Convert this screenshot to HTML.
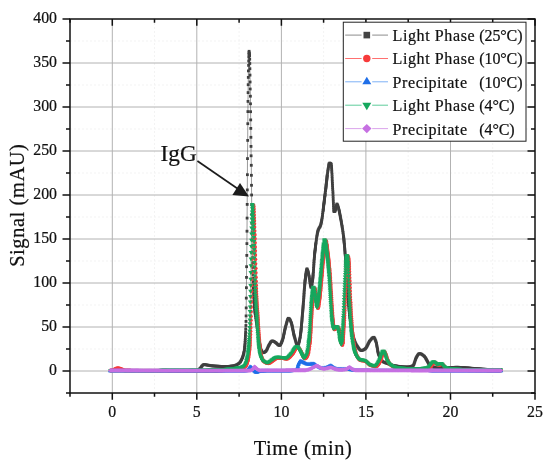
<!DOCTYPE html>
<html lang="en"><head><meta charset="utf-8"><title>Chromatogram</title>
<style>
html,body{margin:0;padding:0;background:#fff}
svg{display:block}
text{font-family:"Liberation Serif","DejaVu Serif",serif;fill:#111;stroke:#111;stroke-width:.22px}
.tk{font-size:15.8px}
.lg{font-size:16px;letter-spacing:.6px}
.lp{letter-spacing:-.1px}
.ax{font-size:20.4px;letter-spacing:.6px}
.an{font-size:23.2px}
.c{fill:none;stroke-width:.6;stroke-linejoin:round}
.k{stroke:#555}.r{stroke:#f66}.b{stroke:#5a9af0}.g{stroke:#3dbb7d}.p{stroke:#cf8ee6}
.gm{stroke:#b2b2b2;stroke-width:1}
.gn{stroke:#f3f3f3;stroke-width:1;stroke-dasharray:2 2}
.axl{stroke:#111;stroke-width:1.5;fill:none}
</style></head><body>
<svg width="550" height="468" viewBox="0 0 550 468">
<defs>
<marker id="mk" markerUnits="userSpaceOnUse" markerWidth="4" markerHeight="4" refX="2" refY="2"><rect x=".6" y=".6" width="2.8" height="2.8" fill="#3f3f3f"/></marker>
<marker id="mr" markerUnits="userSpaceOnUse" markerWidth="5" markerHeight="5" refX="2.5" refY="2.5"><circle cx="2.5" cy="2.5" r="1.9" fill="#f73b3b"/></marker>
<marker id="mb" markerUnits="userSpaceOnUse" markerWidth="6" markerHeight="6" refX="3" refY="3"><path d="M3 .8L5.3 4.6H.7z" fill="#1f6fe8"/></marker>
<marker id="mg" markerUnits="userSpaceOnUse" markerWidth="6" markerHeight="6" refX="3" refY="3"><path d="M3 5.2L5.3 1.4H.7z" fill="#16a85e"/></marker>
<marker id="mp" markerUnits="userSpaceOnUse" markerWidth="6" markerHeight="6" refX="3" refY="3"><path d="M3 .8L5.2 3L3 5.2L.8 3z" fill="#c670e2"/></marker>
</defs>
<rect width="550" height="468" fill="#fff"/>

<path class="gn" d="M154.5 19V393M239.1 19V393M323.6 19V393M408.2 19V393M492.7 19V393M70 349H535M70 305H535M70 261H535M70 217H535M70 173H535M70 129H535M70 85H535M70 41H535"/>
<path class="gm" d="M112.3 19V393M196.8 19V393M281.4 19V393M365.9 19V393M450.5 19V393M70 371H535M70 327H535M70 283H535M70 239H535M70 195H535M70 151H535M70 107H535M70 63H535"/>
<polyline class="c k" marker-start="url(#mk)" marker-mid="url(#mk)" marker-end="url(#mk)" points="110.5,370.5 111.4,370.5 112.3,370.5 113.2,370.5 114.1,370.5 115,370.5 115.9,370.5 116.8,370.5 117.7,370.5 118.6,370.5 119.5,370.5 120.4,370.5 121.3,370.5 122.2,370.5 123.1,370.5 124,370.5 124.9,370.5 125.8,370.5 126.7,370.5 127.6,370.5 128.5,370.5 129.4,370.5 130.3,370.5 131.2,370.5 132.1,370.5 133,370.5 133.9,370.5 134.8,370.5 135.7,370.5 136.6,370.5 137.5,370.5 138.4,370.5 139.4,370.5 140.3,370.5 141.2,370.5 142.1,370.5 143,370.5 143.9,370.5 144.8,370.5 145.7,370.5 146.6,370.5 147.5,370.5 148.4,370.5 149.3,370.5 150.2,370.5 151.1,370.5 152,370.5 152.9,370.5 153.8,370.5 154.7,370.5 155.6,370.5 156.5,370.5 157.4,370.5 158.3,370.5 159.2,370.5 160.1,370.5 161,370.5 161.9,370.5 162.8,370.5 163.7,370.5 164.6,370.5 165.5,370.4 166.4,370.4 167.3,370.4 168.2,370.4 169.1,370.4 170,370.4 170.9,370.4 171.8,370.4 172.7,370.4 173.6,370.4 174.5,370.4 175.4,370.4 176.3,370.4 177.2,370.4 178.1,370.4 179,370.4 179.9,370.4 180.8,370.4 181.7,370.4 182.6,370.4 183.5,370.4 184.4,370.4 185.3,370.4 186.2,370.4 187.1,370.4 188,370.4 188.9,370.4 189.8,370.3 190.7,370.3 191.6,370.3 192.5,370.3 193.4,370.3 194.3,370.3 195.3,370.3 196.2,370.3 197.1,370.3 198,370.3 198.9,369.8 199.5,369 200.2,368.3 200.9,367.5 201.4,366.7 202,366 202.7,365.2 203.5,364.7 204.4,364.6 205.3,364.7 206.2,364.9 207.1,365 208,365.2 208.9,365.3 209.8,365.5 210.7,365.7 211.6,365.8 212.5,365.9 213.4,365.9 214.3,366 215.2,366.1 216.1,366.1 217,366.2 217.9,366.2 218.8,366.3 219.7,366.3 220.6,366.4 221.5,366.4 222.4,366.4 223.3,366.5 224.2,366.5 225.1,366.5 226,366.5 226.9,366.5 227.8,366.5 228.7,366.4 229.6,366.3 230.5,366.2 231.4,366.1 232.3,366 233.2,365.9 234.1,365.7 235,365.5 235.9,365.1 236.8,364.7 237.7,364.2 238.5,363.7 239.3,363.1 240,362.3 240.6,361.5 241.1,360.5 241.6,359.6 242,358.7 242.5,357.6 242.8,356.7 243.1,355.7 243.5,354.5 243.7,353.5 243.9,352.4 244.2,351.2 244.4,349.8 244.6,348.1 244.7,347 244.8,345.6 245,344.1 245.1,342.4 245.2,340.6 245.3,338.6 245.4,336.4 245.5,334.2 245.6,331.8 245.7,328.9 245.9,325.5 246,321.4 246.1,315.9 246.2,307.9 246.3,298.1 246.4,287.7 246.5,277.4 246.6,266.7 246.8,255.4 246.9,243.6 247,231.2 247.1,218.1 247.2,204.4 247.3,189.9 247.4,174.7 247.5,158.6 247.7,140.4 247.8,123.7 247.9,111.6 248,101.4 248.1,92.6 248.2,84.7 248.3,77.4 248.4,70.9 248.6,65.4 248.7,60.9 248.8,57 248.9,54.3 249,52.5 249.1,51.3 249.5,53.6 249.6,55.7 249.7,59.2 249.8,63.5 249.9,68.7 250,75.1 250.1,82 250.2,89 250.4,96.2 250.5,103.8 250.6,111.7 250.7,119.9 250.8,128.4 250.9,137.3 251,146.4 251.1,155.8 251.3,165.3 251.4,175.3 251.5,185.3 251.6,195 251.7,204.6 251.8,214.3 251.9,223.5 252.1,231.8 252.2,238.9 252.3,245.6 252.4,251.9 252.5,257.6 252.6,262.8 252.7,267.4 252.8,271.3 253,274.9 253.1,278.4 253.2,281.7 253.3,284.8 253.4,287.7 253.5,290.4 253.6,293 253.7,295.4 253.9,297.5 254,299.5 254.1,301.3 254.2,302.9 254.3,304.3 254.4,305.7 254.5,307 254.6,308.2 254.8,309.4 254.9,310.4 255,311.5 255.1,312.5 255.2,313.4 255.3,314.3 255.5,316 255.8,317.6 256,319.2 256.2,320.8 256.4,322.3 256.7,323.8 256.9,325.3 257.1,326.6 257.3,327.9 257.6,329.2 257.8,330.4 258,331.7 258.2,333 258.5,334.3 258.7,335.8 258.9,337.4 259.2,339 259.4,340.8 259.6,342.4 259.8,344.1 260.1,345.6 260.3,346.9 260.5,348 260.8,349.1 261.3,350.2 261.7,351.1 262.3,352.1 263,352.7 263.9,352.6 264.7,352.1 265.5,351.5 266.1,350.9 266.7,350 267.2,349 267.6,348 268.1,346.9 268.5,345.9 269,345.1 269.5,344.2 270.1,343.2 270.6,342.3 271.2,341.6 272,341 272.9,341 273.8,341.4 274.6,341.9 275.4,342.4 276.2,343 276.8,343.6 277.5,344.3 278.2,344.9 279,345.4 279.9,345.4 280.6,344.5 281,343.7 281.5,342.7 281.8,341.8 282.1,340.9 282.5,340.1 282.8,339 283.2,337.8 283.4,336.8 283.6,335.7 283.8,334.7 284.1,333.5 284.3,332.4 284.5,331.3 284.7,330.2 285,329.2 285.2,328.2 285.4,327.3 285.7,326.1 286.1,324.8 286.4,323.6 286.8,322.3 287.1,321.1 287.4,320 287.8,319.2 288.3,318.3 289.2,318.6 289.8,319.4 290.3,320.3 290.7,321.3 291.2,322.4 291.5,323.4 291.8,324.7 292.1,325.7 292.3,326.8 292.5,327.9 292.7,329 293,330.1 293.2,331.3 293.4,332.4 293.6,333.5 293.9,334.5 294.1,335.5 294.3,336.4 294.7,337.5 295,338.7 295.3,339.9 295.7,341.1 296,342.2 296.3,343.3 296.7,344.2 297.1,345.1 298,345.3 298.5,344.3 298.8,343.2 299.2,341.9 299.4,340.9 299.6,339.9 299.8,338.8 300.1,337.7 300.3,336.4 300.5,334.8 300.6,333.9 300.7,332.9 300.9,331.9 301,330.8 301.1,329.7 301.2,328.6 301.3,327.4 301.4,326.2 301.5,324.9 301.6,323.6 301.8,322.3 301.9,321 302,319.7 302.1,318.3 302.2,317 302.3,315.6 302.4,314.3 302.5,312.9 302.7,311.6 302.8,310.3 302.9,309 303,307.7 303.1,306.4 303.2,305 303.3,303.6 303.4,302.1 303.6,300.6 303.7,299 303.8,297.5 303.9,295.9 304,294.3 304.1,292.7 304.2,291.1 304.3,289.6 304.5,288.1 304.6,286.7 304.7,285.3 304.8,284 304.9,282.8 305,281.6 305.1,280.6 305.2,279.6 305.4,278.7 305.5,277.7 305.6,276.7 305.7,275.8 305.8,274.8 305.9,273.9 306.1,272.2 306.4,270.8 306.6,269.7 307,268.8 307.6,269.9 308,271.2 308.2,272.2 308.4,273.2 308.6,274.3 308.9,275.2 309.1,276.4 309.3,277.7 309.5,279.2 309.8,280.8 310,282.4 310.2,283.9 310.4,285.2 310.7,286.3 311,287.4 311.7,286.4 311.9,285.1 312.1,283.5 312.3,281.8 312.5,280.8 312.6,279.9 312.7,279 312.8,278 312.9,277 313,275.9 313.1,274.6 313.2,273.2 313.4,271.7 313.5,270.1 313.6,268.4 313.7,266.8 313.8,265.1 313.9,263.4 314,261.7 314.1,260.1 314.3,258.5 314.4,257.1 314.5,255.7 314.6,254.5 314.7,253.4 314.8,252.4 314.9,251.4 315.1,250.3 315.2,249.4 315.3,248.4 315.4,247.4 315.5,246.4 315.6,245.5 315.7,244.6 315.8,243.7 316,242.8 316.2,241 316.4,239.4 316.6,237.8 316.9,236.3 317.1,235 317.3,233.7 317.5,232.6 317.8,231.6 318,230.7 318.3,229.7 318.8,228.7 319.3,227.7 319.9,226.9 320.3,226 320.7,225 321,223.8 321.2,222.8 321.5,221.6 321.7,220.4 321.9,219 322.2,217.5 322.4,216 322.6,214.3 322.8,212.6 323.1,210.8 323.2,209.9 323.3,209 323.4,208.1 323.5,207.2 323.6,206.2 323.7,205.3 323.8,204.3 324,203.4 324.1,202.5 324.2,201.5 324.3,200.6 324.4,199.6 324.5,198.7 324.6,197.7 324.7,196.8 324.9,195.9 325,195 325.1,194.1 325.3,192.4 325.5,190.6 325.6,189.6 325.8,188.7 325.9,187.7 326,186.7 326.1,185.6 326.2,184.6 326.3,183.6 326.4,182.6 326.5,181.5 326.7,180.5 326.8,179.5 326.9,178.5 327,177.5 327.1,176.5 327.2,175.6 327.3,174.7 327.6,172.9 327.8,171.3 328,169.9 328.2,168.6 328.5,167.1 328.7,165.8 328.9,164.6 329.1,163.6 329.8,163 330.7,163.5 331.3,164.2 331.5,166.2 331.6,167.9 331.7,169.8 331.8,171.9 332,174.2 332.1,176.6 332.2,179 332.3,181.3 332.4,183.4 332.5,185.3 332.6,187.3 332.7,189.4 332.9,191.7 333,194.1 333.1,196.5 333.2,198.9 333.3,201.3 333.4,203.5 333.5,205.6 333.6,207.5 333.8,209.2 333.9,210.6 334,211.6 334.9,211.5 335.3,210.4 335.7,209.4 335.9,208.4 336.1,207.2 336.4,206 336.6,205 336.9,204 337.6,204.9 337.9,206 338.3,207.2 338.6,208.4 338.9,209.7 339.2,210.7 339.4,211.7 339.6,212.8 339.8,214 340.1,215.1 340.3,216.4 340.5,217.6 340.7,218.8 341,220 341.2,221.2 341.4,222.5 341.6,223.8 341.9,225.1 342.1,226.4 342.3,227.8 342.5,229.2 342.8,230.8 343,232.4 343.2,234 343.5,235.8 343.6,236.7 343.7,237.6 343.8,238.7 343.9,239.7 344,240.8 344.1,242 344.2,243.2 344.4,244.4 344.5,245.7 344.6,247 344.7,248.4 344.8,249.7 344.9,251.1 345,252.5 345.1,254 345.3,255.4 345.4,256.9 345.5,258.4 345.6,260 345.7,261.7 345.8,263.4 345.9,265.2 346,267 346.2,268.9 346.3,270.8 346.4,272.6 346.5,274.5 346.6,276.4 346.7,278.3 346.8,280.1 346.9,281.9 347.1,283.7 347.2,285.4 347.3,287 347.4,288.6 347.5,290.1 347.6,291.6 347.7,293 347.8,294.5 348,295.9 348.1,297.4 348.2,298.8 348.3,300.2 348.4,301.6 348.5,303 348.6,304.3 348.7,305.6 348.9,306.9 349,308.2 349.1,309.4 349.2,310.6 349.3,311.8 349.4,312.9 349.5,314 349.6,315.1 349.8,316.1 349.9,317 350,317.9 350.2,319.6 350.4,321.3 350.7,322.9 350.9,324.4 351.1,325.9 351.3,327.3 351.6,328.7 351.8,329.9 352,331.2 352.2,332.3 352.5,333.4 352.7,334.4 352.9,335.3 353.3,336.6 353.6,337.7 353.9,338.8 354.3,339.9 354.6,340.8 354.9,341.7 355.4,342.8 355.8,343.8 356.3,344.7 356.9,345.6 357.4,346.5 358,347.3 358.6,348.2 359.1,348.9 359.8,349.7 360.6,350.3 361.5,350.5 362.4,350.3 363.3,350 364.2,349.5 365,349 365.7,348.4 366.2,347.6 366.8,346.7 367.2,345.8 367.7,344.9 368.1,344 368.6,343.1 369,342.2 369.5,341.4 370,340.6 370.7,339.8 371.4,339 372.1,338.2 372.9,337.6 373.8,337.3 374.4,338 374.9,338.9 375.3,340 375.7,340.9 376,341.9 376.4,343.1 376.6,344.2 376.8,345.4 377,346.7 377.3,348 377.5,349.3 377.7,350.7 377.9,351.9 378.2,353 378.4,353.9 378.7,354.8 379.2,355.9 379.6,356.9 380.1,357.8 380.5,358.6 381.1,359.5 381.7,360.3 382.3,361.1 383.1,361.7 383.9,362.2 384.8,362.6 385.7,363 386.6,363.2 387.5,363.5 388.4,363.9 389.3,364.2 390.2,364.5 391.1,364.8 392,365.1 392.9,365.4 393.8,365.6 394.7,365.8 395.6,365.9 396.5,366 397.4,366.2 398.3,366.3 399.2,366.4 400.1,366.5 401,366.6 401.9,366.7 402.8,366.8 403.7,366.9 404.6,366.9 405.5,367 406.5,367 407.4,367 408.3,367 409.2,366.9 410.1,366.7 411,366.5 411.9,366.1 412.8,365.7 413.6,365.1 414,364.1 414.3,363.1 414.7,362 415,360.9 415.4,359.8 415.7,358.9 416.1,357.9 416.6,357.1 417,356.3 417.6,355.3 418.2,354.5 418.8,353.8 419.7,353.6 420.7,353.8 421.6,354.2 422.3,354.7 423.1,355.3 423.9,355.9 424.6,356.6 425.2,357.4 425.7,358.3 426.2,359.1 426.6,359.9 427.1,360.7 427.6,361.7 428.1,362.5 428.5,363.4 429,364.3 429.4,365.2 430,366 430.8,366.5 431.7,366.7 432.6,366.9 433.5,367.1 434.4,367.2 435.3,367.2 436.2,367.3 437.1,367.3 438,367.3 438.9,367.4 439.8,367.4 440.7,367.4 441.6,367.5 442.5,367.5 443.4,367.5 444.3,367.5 445.2,367.5 446.1,367.6 447,367.6 447.9,367.6 448.8,367.6 449.7,367.6 450.6,367.6 451.5,367.6 452.4,367.5 453.3,367.5 454.2,367.4 455.1,367.3 456,367.3 456.9,367.3 457.8,367.3 458.7,367.3 459.6,367.4 460.5,367.4 461.4,367.5 462.3,367.5 463.3,367.6 464.2,367.6 465.1,367.7 466,367.8 466.9,367.9 467.8,367.9 468.7,368 469.6,368.1 470.5,368.2 471.4,368.3 472.3,368.3 473.2,368.4 474.1,368.5 475,368.5 475.9,368.6 476.8,368.7 477.7,368.7 478.6,368.8 479.5,368.9 480.4,368.9 481.3,369 482.2,369.1 483.1,369.2 484,369.2 484.9,369.3 485.8,369.3 486.7,369.4 487.6,369.4 488.5,369.5 489.4,369.5 490.3,369.6 491.2,369.6 492.1,369.7 493,369.7 493.9,369.7 494.8,369.8 495.7,369.8 496.6,369.8 497.5,369.9 498.4,369.9 499.3,369.9 500.2,370 501.1,370"/>
<polyline class="c r" marker-start="url(#mr)" marker-mid="url(#mr)" marker-end="url(#mr)" points="110.5,370.5 111.4,370.5 112.3,370.3 113.2,370 114,369.6 114.8,369.1 115.7,368.7 116.6,368.4 117.5,368.2 118.4,368.2 119.3,368.4 120.2,368.7 121.1,369 122,369.3 122.9,369.7 123.8,370.2 124.7,370.5 125.6,370.5 126.5,370.5 127.4,370.5 128.3,370.5 129.2,370.5 130.1,370.5 131,370.6 131.9,370.6 132.8,370.6 133.7,370.6 134.6,370.6 135.5,370.6 136.4,370.6 137.3,370.6 138.2,370.6 139.1,370.6 140,370.6 140.9,370.6 141.8,370.6 142.7,370.6 143.6,370.6 144.5,370.6 145.4,370.7 146.3,370.7 147.2,370.7 148.1,370.7 149,370.7 149.9,370.7 150.8,370.7 151.7,370.7 152.6,370.7 153.6,370.7 154.5,370.7 155.4,370.7 156.3,370.7 157.2,370.7 158.1,370.7 159,370.7 159.9,370.7 160.8,370.7 161.7,370.7 162.6,370.7 163.5,370.7 164.4,370.7 165.3,370.7 166.2,370.7 167.1,370.7 168,370.8 168.9,370.8 169.8,370.8 170.7,370.8 171.6,370.8 172.5,370.8 173.4,370.8 174.3,370.8 175.2,370.8 176.1,370.8 177,370.8 177.9,370.8 178.8,370.8 179.7,370.8 180.6,370.8 181.5,370.8 182.4,370.8 183.3,370.8 184.2,370.8 185.1,370.8 186,370.8 186.9,370.8 187.8,370.8 188.7,370.8 189.6,370.8 190.5,370.8 191.4,370.8 192.3,370.8 193.2,370.8 194.1,370.8 195,370.8 195.9,370.8 196.8,370.8 197.7,370.8 198.6,370.8 199.5,370.8 200.4,370.8 201.3,370.8 202.2,370.8 203.1,370.8 204,370.8 204.9,370.8 205.8,370.8 206.7,370.8 207.6,370.8 208.5,370.8 209.5,370.8 210.4,370.8 211.3,370.8 212.2,370.8 213.1,370.8 214,370.8 214.9,370.8 215.8,370.8 216.7,370.8 217.6,370.8 218.5,370.7 219.4,370.7 220.3,370.7 221.2,370.6 222.1,370.5 223,370.4 223.9,370.4 224.8,370.3 225.7,370.2 226.6,370.1 227.5,370 228.4,369.9 229.3,369.8 230.2,369.7 231.1,369.6 232,369.5 232.9,369.4 233.8,369.3 234.7,369.2 235.6,369.1 236.5,369 237.4,368.9 238.3,368.7 239.2,368.6 240.1,368.4 241,368.2 241.9,368 242.8,367.7 243.7,367.4 244.6,367 245.4,366.5 246.1,365.7 246.5,364.7 246.9,363.7 247.2,362.6 247.5,361.3 247.8,360.4 248,359.4 248.2,358.4 248.4,357.3 248.7,356.1 248.9,354.6 249.1,352.8 249.2,351.7 249.3,350.6 249.5,349.4 249.6,348.1 249.7,346.8 249.8,345.3 249.9,343.7 250,342 250.1,340 250.2,337.4 250.4,334.5 250.5,331.2 250.6,327.7 250.7,324 250.8,320.2 250.9,316.2 251,311.7 251.1,307 251.3,301.9 251.4,296.6 251.5,291.2 251.6,285.4 251.7,279.1 251.8,272.4 251.9,265.6 252.1,258.9 252.2,252.6 252.3,246.4 252.4,240.1 252.5,233.9 252.6,228.1 252.7,223.2 252.8,219.3 253,215.7 253.1,212.2 253.2,209.1 253.3,206.6 253.4,205.1 253.7,206.8 253.9,209.1 254,211.8 254.1,214.8 254.2,217.8 254.3,220.7 254.4,223.8 254.5,227.1 254.6,230.8 254.8,234.7 254.9,238.7 255,242.8 255.1,246.9 255.2,250.8 255.3,254.9 255.4,259.3 255.5,263.8 255.7,268.3 255.8,272.8 255.9,277.2 256,281.3 256.1,285.2 256.2,288.5 256.3,291.4 256.4,294 256.6,296.5 256.7,298.8 256.8,300.9 256.9,303 257,304.9 257.1,306.8 257.2,308.6 257.3,310.4 257.5,312.2 257.6,313.9 257.7,315.6 257.8,317.4 257.9,319.2 258,321 258.1,322.9 258.2,324.8 258.4,326.8 258.5,328.7 258.6,330.6 258.7,332.5 258.8,334.3 258.9,336.1 259,337.8 259.2,339.4 259.3,340.8 259.4,342.1 259.5,343.4 259.6,344.6 259.7,345.7 259.8,346.9 259.9,348 260.1,349 260.2,350 260.3,350.9 260.5,352.5 260.7,353.8 261,354.7 261.3,356 261.6,357.1 262,358.2 262.3,359 262.8,360 263.3,360.9 264,361.5 264.8,362.1 265.6,362.5 266.5,362.9 267.4,363.2 268.3,363.3 269.2,363.2 270.1,362.7 270.9,362.2 271.7,361.6 272.4,361 273.2,360.5 274,359.9 274.8,359.3 275.6,358.8 276.4,358.3 277.3,358 278.2,357.9 279.1,357.9 280,358 280.9,358 281.8,358.1 282.7,358.2 283.6,358.3 284.5,358.5 285.4,358.7 286.3,358.8 287.2,358.8 288.1,358.4 288.9,357.8 289.6,357.2 290.3,356.5 290.9,355.7 291.6,355 292.3,354.3 292.8,353.5 293.4,352.7 294,351.7 294.4,350.9 294.9,350.1 295.4,349.2 296,348.3 296.7,347.6 297.5,347.1 298.4,347.3 299,348.1 299.6,349.1 300.1,349.9 300.5,350.8 301,351.5 301.4,352.3 301.9,353.3 302.3,354.3 302.8,355.4 303.2,356.4 303.7,357.3 304.2,358.1 305,358.6 305.9,358.1 306.5,357.4 307,356.5 307.5,355.6 307.8,354.7 308.2,353.3 308.4,352.2 308.6,350.9 308.9,349.5 309.1,347.9 309.3,346.3 309.5,344.5 309.6,343.6 309.8,342.7 309.9,341.7 310,340.8 310.1,339.8 310.2,338.6 310.3,337.2 310.4,335.7 310.5,334.1 310.7,332.4 310.8,330.6 310.9,328.7 311,326.8 311.1,324.8 311.2,322.8 311.3,320.7 311.4,318.7 311.6,316.7 311.7,314.6 311.8,312.7 311.9,310.8 312,309 312.1,307.2 312.2,305.6 312.3,304.1 312.5,302.7 312.6,301.5 312.7,300.4 312.8,299.2 312.9,298.1 313,296.9 313.1,295.8 313.2,294.7 313.4,293.6 313.5,292.5 313.6,291.5 313.7,290.6 313.9,289 314.1,287.8 315.1,288.7 315.3,290.1 315.5,291.7 315.7,293.3 316,295 316.2,296.5 316.4,298 316.6,299.7 316.7,300.7 316.9,301.7 317,302.6 317.1,303.6 317.2,304.5 317.4,306.1 317.6,307.3 318,308.2 318.4,307.1 318.7,305.9 318.9,304.3 319.1,302.5 319.2,301.6 319.3,300.6 319.4,299.6 319.6,298.6 319.7,297.7 319.8,296.7 319.9,295.8 320,294.8 320.1,293.8 320.2,292.7 320.3,291.5 320.5,290.3 320.6,289.1 320.7,287.9 320.8,286.6 320.9,285.3 321,284 321.1,282.8 321.2,281.5 321.4,280.2 321.5,279 321.6,277.7 321.7,276.5 321.8,275.3 321.9,274 322,272.7 322.2,271.4 322.3,270.1 322.4,268.7 322.5,267.4 322.6,266.1 322.7,264.8 322.8,263.5 322.9,262.2 323.1,261 323.2,259.7 323.3,258.5 323.4,257.4 323.5,256.3 323.6,255.2 323.7,254.2 323.8,253.3 324,252.3 324.1,251.3 324.2,250.2 324.3,249.2 324.4,248.2 324.5,247.1 324.6,246.1 324.7,245.2 324.9,244.3 325.1,242.6 325.3,241.3 325.5,240.4 326.3,241.5 326.5,242.9 326.8,244.6 326.9,245.5 327,246.5 327.1,247.5 327.2,248.5 327.3,249.5 327.4,250.6 327.6,251.6 327.7,252.6 327.8,253.5 327.9,254.4 328,255.3 328.1,256.3 328.2,257.3 328.3,258.3 328.5,259.3 328.6,260.3 328.7,261.4 328.8,262.5 328.9,263.6 329,264.7 329.1,265.8 329.3,267 329.4,268.2 329.5,269.4 329.6,270.6 329.7,271.9 329.8,273.2 329.9,274.5 330,275.9 330.2,277.5 330.3,279 330.4,280.7 330.5,282.4 330.6,284.2 330.7,286 330.8,287.9 330.9,289.8 331.1,291.7 331.2,293.7 331.3,295.6 331.4,297.6 331.5,299.5 331.6,301.5 331.7,303.4 331.8,305.3 332,307.1 332.1,308.9 332.2,310.7 332.3,312.4 332.4,314 332.5,315.6 332.6,317.1 332.7,318.5 332.9,319.8 333,321 333.1,322.1 333.2,323.1 333.4,324.7 333.6,326.1 333.9,327.4 334.1,328.5 334.4,329.4 335.3,329 336,328.3 336.8,327.7 337.6,327.2 338.5,327.8 338.8,328.9 339.1,329.7 339.3,330.7 339.5,331.6 339.7,332.8 340,334.3 340.2,336 340.4,337.7 340.6,339.2 340.9,340.4 341.1,341.4 341.3,342.3 341.5,343.2 341.9,344.3 342.4,345.1 342.8,343.3 342.9,342.2 343,340.9 343.1,339.4 343.2,337.7 343.3,335.9 343.5,334 343.6,332.1 343.7,330.1 343.8,328.1 343.9,326.2 344,324.4 344.1,322.4 344.2,320.3 344.4,318 344.5,315.6 344.6,313.1 344.7,310.5 344.8,307.9 344.9,305.2 345,302.5 345.1,299.8 345.3,297.2 345.4,294.6 345.5,292.1 345.6,289.8 345.7,287.4 345.8,285 345.9,282.5 346,280 346.2,277.5 346.3,275 346.4,272.6 346.5,270.4 346.6,268.3 346.7,266.4 346.8,264.7 346.9,263.2 347.1,262 347.2,260.8 347.3,259.7 347.4,258.6 347.5,257.6 347.7,256 348.4,257.1 348.5,258.2 348.6,259.3 348.7,260.6 348.9,261.9 349,263.3 349.1,264.8 349.2,266.7 349.3,269 349.4,271.7 349.5,274.6 349.6,277.7 349.8,281 349.9,284.3 350,287.7 350.1,291 350.2,294.1 350.3,297.1 350.4,299.8 350.6,302.3 350.7,304.7 350.8,307.1 350.9,309.5 351,311.8 351.1,314 351.2,316.2 351.3,318.3 351.5,320.3 351.6,322.2 351.7,323.9 351.8,325.5 351.9,326.9 352,328.4 352.1,329.7 352.2,331 352.4,332.3 352.5,333.5 352.6,334.6 352.7,335.7 352.8,336.8 352.9,337.7 353,338.7 353.3,340.3 353.5,341.8 353.7,343.2 353.9,344.5 354.2,345.8 354.4,347.1 354.6,348.2 354.8,349.3 355.1,350.4 355.3,351.3 355.5,352.2 355.8,353.4 356.2,354.4 356.6,355.4 357.1,356.2 357.5,357 358.1,357.9 358.7,358.7 359.3,359.5 360.1,360 361,360.3 361.9,360.5 362.8,360.6 363.7,360.7 364.6,360.9 365.5,361.2 366.3,361.7 367.1,362.4 367.8,363 368.5,363.7 369.3,364.4 370,364.9 370.9,365.3 371.9,365.6 372.8,365.9 373.7,366.1 374.6,366.3 375.5,366.4 376.4,366.3 377.1,365.9 377.8,365.1 378.4,364.4 379,363.5 379.4,362.7 379.9,361.8 380.3,361 380.8,360 381.1,359 381.4,357.9 381.8,356.7 382.1,355.6 382.4,354.7 382.9,353.7 383.3,352.6 383.9,351.7 384.8,352.2 385.3,353.2 385.6,354.1 385.9,355 386.3,355.8 386.6,356.9 387,358.1 387.3,359.3 387.6,360.2 388.1,361.1 388.5,362 389.1,362.9 389.7,363.7 390.3,364.5 391,365.1 391.8,365.7 392.6,366.2 393.5,366.7 394.4,367.1 395.3,367.4 396.2,367.7 397.1,368 398,368.2 398.9,368.4 399.8,368.6 400.7,368.7 401.6,368.8 402.5,368.9 403.4,368.9 404.3,369 405.2,369.1 406.1,369.1 407,369.2 407.9,369.2 408.8,369.2 409.7,369.3 410.6,369.3 411.5,369.3 412.4,369.3 413.3,369.3 414.2,369.3 415.1,369.3 416,369.3 416.9,369.3 417.8,369.2 418.7,369.2 419.6,369.2 420.5,369.2 421.4,369.1 422.3,369.1 423.2,369 424.1,369 425,368.9 425.9,368.9 426.8,368.8 427.8,368.7 428.7,368.3 429.4,367.8 430.2,367.2 430.9,366.6 431.5,365.7 432,364.7 432.6,364 433.3,363.3 433.9,362.6 434.9,362.4 435.6,362.9 436.4,363.5 437.1,364.2 437.8,364.9 438.7,365.1 439.6,364.9 440.5,364.5 441.4,364.3 442.3,364.3 443.1,364.8 443.8,365.6 444.3,366.4 445,367.2 445.8,367.8 446.7,368.2 447.6,368.6 448.5,368.8 449.4,369 450.3,369.2 451.2,369.3 452.1,369.4 453,369.6 453.9,369.6 454.8,369.7 455.7,369.8 456.6,369.8 457.5,369.9 458.4,369.9 459.3,370 460.2,370 461.1,370 462,370.1 462.9,370.1 463.8,370.1 464.7,370.2 465.6,370.2 466.5,370.2 467.4,370.2 468.3,370.3 469.2,370.3 470.1,370.3 471,370.3 471.9,370.3 472.8,370.3 473.7,370.3 474.6,370.3 475.5,370.4 476.4,370.4 477.3,370.4 478.2,370.4 479.1,370.4 480,370.4 480.9,370.4 481.8,370.4 482.7,370.4 483.6,370.4 484.6,370.4 485.5,370.4 486.4,370.4 487.3,370.5 488.2,370.5 489.1,370.5 490,370.5 490.9,370.5 491.8,370.5 492.7,370.5 493.6,370.5 494.5,370.5 495.4,370.5 496.3,370.5 497.2,370.5 498.1,370.5 499,370.5 499.9,370.5 500.8,370.5"/>
<polyline class="c b" marker-start="url(#mb)" marker-mid="url(#mb)" marker-end="url(#mb)" points="110.2,370.6 111.1,370.6 112,370.6 112.9,370.6 113.8,370.6 114.7,370.6 115.6,370.6 116.5,370.6 117.4,370.6 118.3,370.6 119.2,370.6 120.1,370.6 121,370.6 121.9,370.6 122.8,370.6 123.7,370.6 124.6,370.6 125.5,370.6 126.4,370.6 127.3,370.6 128.2,370.6 129.1,370.6 130,370.6 130.9,370.6 131.8,370.6 132.7,370.6 133.6,370.6 134.5,370.6 135.4,370.6 136.3,370.6 137.2,370.6 138.1,370.6 139.1,370.6 140,370.6 140.9,370.6 141.8,370.6 142.7,370.6 143.6,370.6 144.5,370.6 145.4,370.6 146.3,370.6 147.2,370.6 148.1,370.6 149,370.6 149.9,370.6 150.8,370.6 151.7,370.6 152.6,370.6 153.5,370.6 154.4,370.6 155.3,370.6 156.2,370.6 157.1,370.6 158,370.6 158.9,370.6 159.8,370.6 160.7,370.6 161.6,370.6 162.5,370.6 163.4,370.6 164.3,370.6 165.2,370.6 166.1,370.6 167,370.6 167.9,370.6 168.8,370.6 169.7,370.6 170.6,370.6 171.5,370.6 172.4,370.6 173.3,370.6 174.2,370.6 175.1,370.6 176,370.6 176.9,370.6 177.8,370.6 178.7,370.6 179.6,370.6 180.5,370.6 181.4,370.6 182.3,370.6 183.2,370.6 184.1,370.6 185,370.6 185.9,370.6 186.8,370.6 187.7,370.6 188.6,370.6 189.5,370.6 190.4,370.6 191.3,370.6 192.2,370.6 193.1,370.6 194,370.6 195,370.6 195.9,370.6 196.8,370.6 197.7,370.6 198.6,370.6 199.5,370.6 200.4,370.6 201.3,370.6 202.2,370.6 203.1,370.6 204,370.6 204.9,370.6 205.8,370.6 206.7,370.6 207.6,370.6 208.5,370.6 209.4,370.6 210.3,370.6 211.2,370.6 212.1,370.6 213,370.6 213.9,370.6 214.8,370.6 215.7,370.6 216.6,370.6 217.5,370.6 218.4,370.6 219.3,370.6 220.2,370.6 221.1,370.6 222,370.6 222.9,370.6 223.8,370.6 224.7,370.6 225.6,370.6 226.5,370.6 227.4,370.6 228.3,370.6 229.2,370.6 230.1,370.6 231,370.6 231.9,370.6 232.8,370.6 233.7,370.6 234.6,370.6 235.5,370.6 236.4,370.6 237.3,370.6 238.2,370.6 239.1,370.6 240,370.6 240.9,370.6 241.8,370.6 242.7,370.6 243.6,370.6 244.5,370.6 245.4,370.6 246.3,370.6 247.2,370.1 248,369.5 248.7,368.6 249.3,367.7 249.8,366.8 250.7,366.6 251.5,367.3 252.1,368 252.8,368.8 253.3,369.6 253.9,370.3 254.6,371.1 255.4,371.7 256.1,372.1 257,372.1 257.9,371.7 258.9,371.4 259.8,371.2 260.7,371 261.6,370.8 262.5,370.8 263.4,370.8 264.3,370.8 265.2,370.7 266.1,370.7 267,370.7 267.9,370.7 268.8,370.7 269.7,370.7 270.6,370.7 271.5,370.7 272.4,370.7 273.3,370.7 274.2,370.7 275.1,370.7 276,370.7 276.9,370.7 277.8,370.7 278.7,370.7 279.6,370.7 280.5,370.6 281.4,370.6 282.3,370.6 283.2,370.6 284.1,370.6 285,370.6 285.9,370.6 286.8,370.6 287.7,370.6 288.6,370.6 289.5,370.6 290.4,370.6 291.3,370.6 292.2,370.5 293.1,370.5 294,370.5 294.9,370.4 295.8,370.1 296.6,369.6 297.2,368.8 297.5,367.6 297.7,366.7 298,365.8 298.3,364.5 298.6,363.7 299.1,362.7 299.5,361.8 300.1,361 301,360.9 301.9,361.4 302.7,361.8 303.6,362.3 304.5,362.8 305.4,363.2 306.3,363.6 307.2,363.9 308.1,364 309,364 309.9,363.9 310.8,363.8 311.7,363.7 312.6,363.6 313.5,363.7 314.4,364 315.2,364.5 316,365.1 316.8,365.8 317.6,366.3 318.5,366.7 319.4,367.2 320.3,367.6 321.2,367.9 322.1,368 323,368 323.9,367.9 324.8,367.7 325.7,367.6 326.6,367.3 327.5,366.9 328.3,366.4 329.1,365.9 330,365.6 330.9,365.5 331.8,366 332.6,366.5 333.3,367.1 334.1,367.6 335,368 335.9,368.4 336.8,368.8 337.7,369 338.6,369 339.5,369 340.4,369 341.3,369 342.2,369 343.2,369 344.1,369 345,369 345.9,369 346.8,369.1 347.7,369.2 348.6,369.3 349.5,369.4 350.4,369.5 351.3,369.6 352.2,369.7 353.1,369.8 354,369.9 354.9,370 355.8,370.1 356.7,370.2 357.6,370.2 358.5,370.3 359.4,370.3 360.3,370.3 361.2,370.3 362.1,370.3 363,370.3 363.9,370.3 364.8,370.3 365.7,370.3 366.6,370.3 367.5,370.3 368.4,370.3 369.3,370.3 370.2,370.4 371.1,370.4 372,370.4 372.9,370.4 373.8,370.4 374.7,370.4 375.6,370.4 376.5,370.4 377.4,370.4 378.3,370.4 379.2,370.4 380.1,370.4 381,370.4 381.9,370.4 382.8,370.4 383.7,370.4 384.6,370.4 385.5,370.4 386.4,370.4 387.3,370.4 388.2,370.4 389.1,370.4 390,370.4 390.9,370.4 391.8,370.4 392.7,370.5 393.6,370.5 394.5,370.5 395.4,370.5 396.3,370.5 397.2,370.5 398.1,370.5 399.1,370.5 400,370.5 400.9,370.5 401.8,370.5 402.7,370.5 403.6,370.5 404.5,370.5 405.4,370.5 406.3,370.5 407.2,370.5 408.1,370.5 409,370.5 409.9,370.5 410.8,370.5 411.7,370.5 412.6,370.5 413.5,370.5 414.4,370.5 415.3,370.5 416.2,370.5 417.1,370.5 418,370.5 418.9,370.5 419.8,370.5 420.7,370.5 421.6,370.5 422.5,370.5 423.4,370.5 424.3,370.5 425.2,370.5 426.1,370.5 427,370.5 427.9,370.5 428.8,370.5 429.7,370.5 430.6,370.6 431.5,370.6 432.4,370.6 433.3,370.6 434.2,370.6 435.1,370.6 436,370.6 436.9,370.6 437.8,370.6 438.7,370.6 439.6,370.6 440.5,370.6 441.4,370.6 442.3,370.6 443.2,370.6 444.1,370.6 445,370.6 445.9,370.6 446.8,370.6 447.7,370.6 448.6,370.6 449.5,370.6 450.4,370.6 451.3,370.6 452.2,370.6 453.1,370.6 454,370.6 454.9,370.6 455.9,370.6 456.8,370.6 457.7,370.6 458.6,370.6 459.5,370.6 460.4,370.6 461.3,370.6 462.2,370.6 463.1,370.6 464,370.6 464.9,370.6 465.8,370.6 466.7,370.6 467.6,370.6 468.5,370.6 469.4,370.6 470.3,370.6 471.2,370.6 472.1,370.6 473,370.6 473.9,370.6 474.8,370.6 475.7,370.6 476.6,370.6 477.5,370.6 478.4,370.6 479.3,370.6 480.2,370.6 481.1,370.6 482,370.6 482.9,370.6 483.8,370.6 484.7,370.6 485.6,370.6 486.5,370.6 487.4,370.6 488.3,370.6 489.2,370.6 490.1,370.6 491,370.6 491.9,370.6 492.8,370.6 493.7,370.6 494.6,370.6 495.5,370.6 496.4,370.6 497.3,370.6 498.2,370.6 499.1,370.6 500,370.6 500.9,370.6"/>
<polyline class="c g" marker-start="url(#mg)" marker-mid="url(#mg)" marker-end="url(#mg)" points="110.5,370.5 111.4,370.5 112.3,370.5 113.2,370.5 114.1,370.5 115,370.5 115.9,370.5 116.8,370.5 117.7,370.5 118.6,370.5 119.5,370.5 120.4,370.5 121.3,370.5 122.2,370.5 123.1,370.5 124,370.5 124.9,370.5 125.8,370.5 126.7,370.5 127.6,370.5 128.5,370.5 129.4,370.5 130.3,370.5 131.2,370.5 132.1,370.5 133,370.5 133.9,370.5 134.8,370.5 135.7,370.5 136.6,370.5 137.5,370.5 138.4,370.5 139.4,370.5 140.3,370.5 141.2,370.5 142.1,370.5 143,370.5 143.9,370.5 144.8,370.5 145.7,370.5 146.6,370.5 147.5,370.5 148.4,370.5 149.3,370.5 150.2,370.5 151.1,370.5 152,370.5 152.9,370.5 153.8,370.5 154.7,370.5 155.6,370.5 156.5,370.5 157.4,370.5 158.3,370.5 159.2,370.5 160.1,370.5 161,370.4 161.9,370.4 162.8,370.4 163.7,370.4 164.6,370.4 165.5,370.4 166.4,370.4 167.3,370.4 168.2,370.4 169.1,370.4 170,370.4 170.9,370.4 171.8,370.4 172.7,370.4 173.6,370.4 174.5,370.4 175.4,370.4 176.3,370.4 177.2,370.4 178.1,370.4 179,370.4 179.9,370.4 180.8,370.4 181.7,370.4 182.6,370.4 183.5,370.4 184.4,370.4 185.3,370.4 186.2,370.4 187.1,370.4 188,370.4 188.9,370.4 189.8,370.3 190.7,370.3 191.6,370.3 192.5,370.3 193.4,370.3 194.3,370.3 195.3,370.3 196.2,370.3 197.1,370.3 198,370.3 198.9,370.3 199.8,370.3 200.7,370.3 201.6,370.3 202.5,370.3 203.4,370.3 204.3,370.3 205.2,370.3 206.1,370.3 207,370.3 207.9,370.2 208.8,370.2 209.7,370.2 210.6,370.2 211.5,370.2 212.4,370.2 213.3,370.2 214.2,370.2 215.1,370.2 216,370.2 216.9,370.2 217.8,370.1 218.7,370.1 219.6,370 220.5,370 221.4,369.9 222.3,369.8 223.2,369.7 224.1,369.6 225,369.5 225.9,369.4 226.8,369.3 227.7,369.2 228.6,369.1 229.5,369.1 230.4,369 231.3,368.9 232.2,368.8 233.1,368.7 234,368.6 234.9,368.5 235.8,368.3 236.7,368.2 237.6,368.1 238.5,367.9 239.4,367.7 240.3,367.5 241.2,367.3 242.1,367 243,366.7 243.9,366.2 244.7,365.6 245.3,364.6 245.7,363.5 246.1,362.5 246.4,361.2 246.6,360.3 246.9,359.4 247.1,358.4 247.3,357.3 247.5,356.2 247.8,354.8 248,353.2 248.1,352.3 248.2,351.3 248.3,350.2 248.4,349 248.6,347.7 248.7,346.3 248.8,344.9 248.9,343.3 249,341.7 249.1,339.7 249.2,337.2 249.3,334.2 249.5,331 249.6,327.5 249.7,323.8 249.8,320.1 249.9,316.1 250,311.7 250.1,307 250.2,302 250.4,296.7 250.5,291.3 250.6,285.6 250.7,279.3 250.8,272.7 250.9,265.9 251,259.2 251.1,252.7 251.3,246.6 251.4,240.3 251.5,234 251.6,228.2 251.7,223.1 251.8,219.2 251.9,215.5 252.1,212 252.2,208.9 252.3,206.3 252.4,204.6 252.7,206 252.8,208.1 253,210.8 253.1,213.8 253.2,216.8 253.3,219.8 253.4,222.8 253.5,226.1 253.6,229.7 253.7,233.6 253.9,237.6 254,241.7 254.1,245.7 254.2,249.7 254.3,253.8 254.4,258.1 254.5,262.6 254.6,267.1 254.8,271.7 254.9,276.1 255,280.2 255.1,284.1 255.2,287.5 255.3,290.5 255.4,293.1 255.5,295.6 255.7,297.9 255.8,300.1 255.9,302.1 256,304.1 256.1,306 256.2,307.8 256.3,309.6 256.4,311.3 256.6,313.1 256.7,314.8 256.8,316.5 256.9,318.3 257,320.2 257.1,322.1 257.2,324 257.3,325.9 257.5,327.8 257.6,329.8 257.7,331.7 257.8,333.5 257.9,335.3 258,337 258.1,338.6 258.2,340 258.4,341.4 258.5,342.6 258.6,343.8 258.7,345 258.8,346.1 258.9,347.2 259,348.3 259.2,349.3 259.3,350.2 259.5,351.8 259.7,353.1 259.9,354.1 260.3,355.3 260.6,356.5 261,357.5 261.3,358.4 261.7,359.4 262.3,360.3 263,360.9 263.8,361.4 264.6,361.9 265.5,362.3 266.4,362.6 267.3,362.7 268.2,362.6 269.1,362.2 269.9,361.6 270.6,361 271.4,360.4 272.2,359.9 273,359.3 273.8,358.7 274.6,358.2 275.4,357.7 276.3,357.4 277.2,357.3 278.1,357.3 279,357.4 279.9,357.4 280.8,357.5 281.7,357.6 282.6,357.7 283.5,357.9 284.4,358.1 285.3,358.2 286.2,358.2 287.1,357.8 287.9,357.3 288.6,356.6 289.2,355.9 289.9,355.2 290.6,354.4 291.3,353.7 291.8,353 292.4,352.1 293,351.1 293.4,350.3 293.9,349.5 294.4,348.6 295,347.8 295.7,347 296.5,346.5 297.4,346.6 298,347.5 298.6,348.4 299,349.3 299.5,350.1 299.9,350.9 300.4,351.7 300.9,352.6 301.3,353.7 301.8,354.7 302.2,355.7 302.7,356.6 303.2,357.5 304,358 304.9,357.5 305.5,356.8 306,355.9 306.5,355 306.8,354.1 307.2,352.8 307.4,351.7 307.6,350.4 307.8,349 308.1,347.4 308.3,345.8 308.5,344 308.6,343.1 308.7,342.2 308.9,341.3 309,340.3 309.1,339.3 309.2,338.1 309.3,336.8 309.4,335.3 309.5,333.7 309.6,332 309.8,330.2 309.9,328.4 310,326.4 310.1,324.4 310.2,322.4 310.3,320.4 310.4,318.3 310.5,316.3 310.7,314.3 310.8,312.3 310.9,310.4 311,308.6 311.1,306.8 311.2,305.2 311.3,303.7 311.4,302.3 311.6,301 311.7,299.9 311.8,298.8 311.9,297.6 312,296.5 312.1,295.3 312.2,294.2 312.3,293.1 312.5,292 312.6,291 312.7,290.1 312.9,288.5 313.1,287.3 314,288 314.3,289.4 314.5,291 314.7,292.6 314.9,294.3 315.2,295.8 315.4,297.3 315.6,299 315.7,300 315.8,300.9 316,301.9 316.1,302.9 316.2,303.8 316.4,305.4 316.6,306.7 317,307.6 317.4,306.6 317.6,305.4 317.9,303.8 318.1,302 318.2,301.1 318.3,300.1 318.4,299.1 318.5,298.1 318.7,297.2 318.8,296.2 318.9,295.3 319,294.3 319.1,293.3 319.2,292.2 319.3,291.1 319.4,289.9 319.6,288.7 319.7,287.4 319.8,286.2 319.9,284.9 320,283.6 320.1,282.3 320.2,281 320.3,279.8 320.5,278.5 320.6,277.3 320.7,276.1 320.8,274.8 320.9,273.6 321,272.3 321.1,271 321.2,269.6 321.4,268.3 321.5,267 321.6,265.7 321.7,264.3 321.8,263 321.9,261.8 322,260.5 322.2,259.3 322.3,258.1 322.4,256.9 322.5,255.8 322.6,254.7 322.7,253.7 322.8,252.8 322.9,251.8 323.1,250.8 323.2,249.8 323.3,248.7 323.4,247.7 323.5,246.7 323.6,245.7 323.7,244.7 323.8,243.8 324.1,242.1 324.3,240.8 324.5,239.9 325.3,240.8 325.5,242.2 325.8,243.9 325.9,244.8 326,245.8 326.1,246.8 326.2,247.8 326.3,248.8 326.4,249.8 326.5,250.8 326.7,251.8 326.8,252.8 326.9,253.7 327,254.6 327.1,255.6 327.2,256.5 327.3,257.5 327.4,258.5 327.6,259.6 327.7,260.6 327.8,261.7 327.9,262.8 328,263.9 328.1,265.1 328.2,266.3 328.3,267.4 328.5,268.7 328.6,269.9 328.7,271.1 328.8,272.4 328.9,273.7 329,275.1 329.1,276.7 329.3,278.2 329.4,279.9 329.5,281.6 329.6,283.4 329.7,285.2 329.8,287.1 329.9,289 330,290.9 330.2,292.8 330.3,294.8 330.4,296.7 330.5,298.7 330.6,300.6 330.7,302.5 330.8,304.4 330.9,306.3 331.1,308.1 331.2,309.9 331.3,311.6 331.4,313.2 331.5,314.8 331.6,316.3 331.7,317.7 331.8,319.1 332,320.3 332.1,321.4 332.2,322.4 332.4,324 332.6,325.4 332.9,326.8 333.1,327.9 333.4,328.8 334.3,328.4 335,327.7 335.8,327.1 336.6,326.6 337.5,327.2 337.8,328.2 338,329.1 338.3,330 338.5,331 338.7,332.1 338.9,333.6 339.2,335.3 339.4,337 339.6,338.5 339.8,339.8 340.1,340.7 340.3,341.7 340.5,342.6 340.9,343.7 341.3,344.5 341.8,342.9 341.9,341.8 342,340.5 342.1,339 342.2,337.3 342.3,335.5 342.4,333.7 342.5,331.7 342.7,329.8 342.8,327.8 342.9,325.9 343,324 343.1,322.1 343.2,320 343.3,317.7 343.5,315.3 343.6,312.8 343.7,310.3 343.8,307.6 343.9,304.9 344,302.3 344.1,299.6 344.2,296.9 344.4,294.4 344.5,291.8 344.6,289.5 344.7,287.1 344.8,284.7 344.9,282.2 345,279.7 345.1,277.2 345.3,274.7 345.4,272.3 345.5,270.1 345.6,267.9 345.7,266 345.8,264.3 345.9,262.8 346,261.6 346.2,260.4 346.3,259.2 346.4,258.1 346.5,257.1 346.7,255.5 347.4,256.4 347.5,257.4 347.6,258.6 347.7,259.8 347.8,261.1 348,262.5 348.1,264 348.2,265.8 348.3,268.1 348.4,270.8 348.5,273.6 348.6,276.7 348.7,280 348.9,283.3 349,286.6 349.1,289.9 349.2,293.1 349.3,296.1 349.4,298.9 349.5,301.4 349.6,303.8 349.8,306.2 349.9,308.6 350,310.9 350.1,313.2 350.2,315.4 350.3,317.5 350.4,319.5 350.6,321.3 350.7,323.1 350.8,324.7 350.9,326.2 351,327.6 351.1,328.9 351.2,330.3 351.3,331.5 351.5,332.7 351.6,333.9 351.7,335 351.8,336 351.9,337 352,337.9 352.2,339.6 352.5,341.1 352.7,342.5 352.9,343.8 353.1,345.1 353.4,346.4 353.6,347.6 353.8,348.7 354,349.7 354.3,350.7 354.5,351.6 354.8,352.7 355.2,353.7 355.6,354.7 356.1,355.6 356.5,356.4 357.1,357.3 357.7,358.1 358.3,358.9 359.1,359.4 360,359.7 360.9,359.9 361.8,360 362.7,360.1 363.6,360.3 364.5,360.6 365.3,361.1 366.1,361.8 366.8,362.4 367.5,363.1 368.2,363.8 369,364.3 369.9,364.7 370.8,365 371.7,365.3 372.6,365.5 373.5,365.7 374.4,365.8 375.3,365.7 376.1,365.3 376.8,364.6 377.4,363.8 377.9,362.9 378.4,362.1 378.8,361.3 379.3,360.4 379.7,359.5 380.1,358.5 380.4,357.4 380.8,356.2 381.1,355.1 381.4,354.2 381.9,353.1 382.3,352.1 382.8,351.3 383.7,351.4 384.1,352.3 384.5,353.2 384.8,354 385.1,354.9 385.5,355.9 385.8,357.1 386.2,358.2 386.5,359.3 387,360.3 387.4,361.1 388,362.1 388.5,362.9 389.1,363.6 389.8,364.3 390.6,364.9 391.3,365.5 392.1,365.9 393,366.3 393.9,366.7 394.8,367 395.7,367.3 396.6,367.5 397.5,367.7 398.4,367.9 399.4,368.1 400.3,368.2 401.2,368.3 402.1,368.3 403,368.4 403.9,368.4 404.8,368.5 405.7,368.5 406.6,368.6 407.5,368.6 408.4,368.7 409.3,368.7 410.2,368.7 411.1,368.7 412,368.7 412.9,368.7 413.8,368.7 414.7,368.7 415.6,368.7 416.5,368.7 417.4,368.6 418.3,368.6 419.2,368.6 420.1,368.5 421,368.5 421.9,368.5 422.8,368.4 423.7,368.4 424.6,368.3 425.5,368.2 426.4,368.1 427.3,367.8 428.2,367.3 429,366.8 429.8,366.1 430.3,365.3 430.9,364.3 431.5,363.5 432.1,362.8 432.8,362.1 433.7,361.8 434.6,362.3 435.4,362.9 436.1,363.6 436.8,364.3 437.7,364.5 438.6,364.3 439.5,363.9 440.4,363.7 441.3,363.6 442.1,364.2 442.7,365 443.3,365.8 444,366.6 444.8,367.2 445.7,367.6 446.6,368 447.5,368.2 448.4,368.4 449.3,368.6 450.2,368.7 451.1,368.8 452,369 452.9,369 453.8,369.1 454.7,369.2 455.6,369.2 456.5,369.3 457.4,369.3 458.3,369.4 459.2,369.4 460.1,369.4 461,369.5 461.9,369.5 462.8,369.5 463.7,369.6 464.6,369.6 465.5,369.6 466.4,369.6 467.3,369.7 468.2,369.7 469.1,369.7 470,369.7 470.9,369.7 471.8,369.7 472.7,369.7 473.6,369.7 474.5,369.7 475.4,369.8 476.3,369.8 477.2,369.8 478.1,369.8 479,369.8 479.9,369.8 480.8,369.8 481.7,369.8 482.6,369.8 483.5,369.8 484.4,369.8 485.3,369.8 486.2,369.8 487.1,369.9 488,369.9 488.9,369.9 489.8,369.9 490.7,369.9 491.7,369.9 492.6,369.9 493.5,369.9 494.4,369.9 495.3,369.9 496.2,369.9 497.1,369.9 498,369.9 498.9,369.9 499.8,369.9 500.7,369.9"/>
<polyline class="c p" marker-start="url(#mp)" marker-mid="url(#mp)" marker-end="url(#mp)" points="110.5,370.5 111.4,370.5 112.3,370.5 113.2,370.5 114.1,370.5 115,370.5 115.9,370.5 116.8,370.5 117.7,370.5 118.6,370.5 119.5,370.5 120.4,370.5 121.3,370.5 122.2,370.5 123.1,370.5 124,370.5 124.9,370.5 125.8,370.5 126.7,370.5 127.6,370.5 128.5,370.5 129.4,370.5 130.3,370.5 131.2,370.5 132.1,370.5 133,370.5 133.9,370.5 134.8,370.5 135.7,370.5 136.6,370.5 137.5,370.5 138.4,370.5 139.4,370.6 140.3,370.6 141.2,370.6 142.1,370.6 143,370.6 143.9,370.6 144.8,370.6 145.7,370.6 146.6,370.6 147.5,370.6 148.4,370.6 149.3,370.6 150.2,370.6 151.1,370.6 152,370.6 152.9,370.6 153.8,370.6 154.7,370.6 155.6,370.6 156.5,370.6 157.4,370.6 158.3,370.6 159.2,370.6 160.1,370.6 161,370.6 161.9,370.6 162.8,370.6 163.7,370.6 164.6,370.6 165.5,370.6 166.4,370.6 167.3,370.6 168.2,370.6 169.1,370.6 170,370.6 170.9,370.6 171.8,370.6 172.7,370.6 173.6,370.6 174.5,370.6 175.4,370.6 176.3,370.6 177.2,370.6 178.1,370.6 179,370.6 179.9,370.6 180.8,370.6 181.7,370.6 182.6,370.6 183.5,370.6 184.4,370.6 185.3,370.6 186.2,370.6 187.1,370.6 188,370.6 188.9,370.6 189.8,370.6 190.7,370.6 191.6,370.6 192.5,370.6 193.4,370.6 194.3,370.6 195.3,370.6 196.2,370.6 197.1,370.6 198,370.6 198.9,370.6 199.8,370.6 200.7,370.6 201.6,370.6 202.5,370.6 203.4,370.6 204.3,370.6 205.2,370.6 206.1,370.6 207,370.6 207.9,370.6 208.8,370.6 209.7,370.6 210.6,370.6 211.5,370.6 212.4,370.6 213.3,370.6 214.2,370.6 215.1,370.6 216,370.6 216.9,370.6 217.8,370.6 218.7,370.6 219.6,370.6 220.5,370.6 221.4,370.6 222.3,370.6 223.2,370.6 224.1,370.6 225,370.6 225.9,370.6 226.8,370.6 227.7,370.6 228.6,370.6 229.5,370.6 230.4,370.6 231.3,370.6 232.2,370.6 233.1,370.6 234,370.6 234.9,370.6 235.8,370.6 236.7,370.6 237.6,370.6 238.5,370.6 239.4,370.6 240.3,370.6 241.2,370.6 242.1,370.6 243,370.6 243.9,370.6 244.8,370.6 245.7,370.6 246.6,370.6 247.5,370.6 248.4,370.6 249.3,370.6 250.2,370.6 251.1,370.3 251.9,369.9 252.7,369.3 253.3,368.5 253.9,367.6 254.5,366.8 255.4,367.2 256.1,368.1 256.8,368.8 257.6,369.4 258.4,369.9 259.3,370.3 260.2,370.4 261.1,370.4 262,370.4 262.9,370.4 263.8,370.4 264.7,370.4 265.6,370.4 266.5,370.4 267.4,370.4 268.3,370.4 269.2,370.4 270.1,370.4 271,370.4 271.9,370.4 272.8,370.4 273.7,370.4 274.6,370.4 275.5,370.4 276.4,370.4 277.3,370.4 278.2,370.4 279.1,370.4 280,370.4 280.9,370.4 281.8,370.4 282.7,370.4 283.6,370.4 284.5,370.4 285.4,370.4 286.3,370.3 287.2,370.3 288.1,370.3 289,370.3 289.9,370.3 290.8,370.3 291.7,370.3 292.6,370.3 293.5,370.3 294.4,370.3 295.3,370.3 296.2,370.3 297.1,370.3 298,370.3 298.9,370.3 299.8,370.3 300.7,370.2 301.6,370.2 302.5,370.2 303.4,370.2 304.3,370.2 305.2,370.2 306.1,370.1 307,369.9 308,369.7 308.9,369.4 309.8,369.1 310.7,368.7 311.6,368.3 312.3,367.9 313.1,367.4 314,367 314.9,366.5 315.8,366 316.7,365.8 317.6,366 318.4,366.5 319.2,367.1 320,367.5 320.9,367.9 321.8,368.3 322.7,368.6 323.6,368.8 324.5,368.8 325.4,368.6 326.3,368.4 327.2,368.2 328.1,368 329,367.8 329.9,367.6 330.8,367.5 331.7,367.6 332.6,368 333.5,368.4 334.4,368.8 335.3,369.1 336.2,369.3 337.1,369.5 338,369.6 338.9,369.7 339.8,369.8 340.7,369.8 341.6,369.8 342.5,369.7 343.5,369.6 344.4,369.5 345.3,369.4 346.2,369.3 347.1,368.8 347.8,368.2 348.6,367.6 349.5,367.3 350.4,367.7 351.2,368.4 352,369 352.9,369.5 353.8,369.8 354.7,370.1 355.6,370.3 356.5,370.3 357.4,370.3 358.3,370.3 359.2,370.3 360.1,370.3 361,370.3 361.9,370.3 362.8,370.3 363.7,370.3 364.6,370.3 365.5,370.3 366.4,370.3 367.3,370.3 368.2,370.3 369.1,370.3 370,370.4 370.9,370.4 371.9,370.4 372.8,370.4 373.7,370.4 374.6,370.4 375.5,370.4 376.4,370.4 377.3,370.4 378.2,370.4 379.1,370.4 380,370.4 380.9,370.4 381.8,370.4 382.7,370.4 383.6,370.4 384.5,370.4 385.4,370.4 386.3,370.4 387.2,370.4 388.1,370.4 389,370.4 389.9,370.4 390.8,370.4 391.7,370.4 392.6,370.4 393.5,370.4 394.4,370.4 395.3,370.4 396.2,370.4 397.1,370.4 398,370.4 398.9,370.4 399.8,370.4 400.7,370.4 401.6,370.4 402.5,370.4 403.4,370.4 404.3,370.4 405.2,370.4 406.1,370.4 407,370.4 407.9,370.4 408.8,370.4 409.7,370.4 410.6,370.4 411.5,370.5 412.4,370.5 413.3,370.5 414.2,370.5 415.1,370.5 416,370.5 416.9,370.5 417.8,370.5 418.7,370.5 419.6,370.5 420.5,370.5 421.4,370.5 422.3,370.5 423.2,370.5 424.1,370.5 425,370.5 425.9,370.5 426.8,370.5 427.8,370.5 428.7,370.5 429.6,370.5 430.5,370.5 431.4,370.5 432.3,370.5 433.2,370.5 434.1,370.5 435,370.5 435.9,370.5 436.8,370.5 437.7,370.5 438.6,370.5 439.5,370.5 440.4,370.5 441.3,370.5 442.2,370.5 443.1,370.5 444,370.5 444.9,370.5 445.8,370.5 446.7,370.5 447.6,370.5 448.5,370.5 449.4,370.5 450.3,370.5 451.2,370.5 452.1,370.5 453,370.5 453.9,370.5 454.8,370.5 455.7,370.5 456.6,370.5 457.5,370.5 458.4,370.5 459.3,370.5 460.2,370.5 461.1,370.5 462,370.5 462.9,370.5 463.8,370.5 464.7,370.5 465.6,370.5 466.5,370.5 467.4,370.5 468.3,370.5 469.2,370.5 470.1,370.5 471,370.5 471.9,370.5 472.8,370.5 473.7,370.5 474.6,370.5 475.5,370.5 476.4,370.5 477.3,370.5 478.2,370.5 479.1,370.5 480,370.5 480.9,370.5 481.8,370.5 482.7,370.5 483.6,370.5 484.6,370.5 485.5,370.5 486.4,370.5 487.3,370.5 488.2,370.5 489.1,370.5 490,370.5 490.9,370.5 491.8,370.5 492.7,370.5 493.6,370.5 494.5,370.5 495.4,370.5 496.3,370.5 497.2,370.5 498.1,370.5 499,370.5 499.9,370.5 500.8,370.5"/>
<rect class="axl" x="70" y="19" width="465" height="374"/>
<path class="axl" d="M70 393v3.8M70 19v3.8M112.3 393v6.8M112.3 19v6.8M154.5 393v3.8M154.5 19v3.8M196.8 393v6.8M196.8 19v6.8M239.1 393v3.8M239.1 19v3.8M281.4 393v6.8M281.4 19v6.8M323.6 393v3.8M323.6 19v3.8M365.9 393v6.8M365.9 19v6.8M408.2 393v3.8M408.2 19v3.8M450.5 393v6.8M450.5 19v6.8M492.7 393v3.8M492.7 19v3.8M535 393v6.8M535 19v6.8M70 393h-4M535 393h-4M70 371h-7.5M535 371h-7.5M70 349h-4M535 349h-4M70 327h-7.5M535 327h-7.5M70 305h-4M535 305h-4M70 283h-7.5M535 283h-7.5M70 261h-4M535 261h-4M70 239h-7.5M535 239h-7.5M70 217h-4M535 217h-4M70 195h-7.5M535 195h-7.5M70 173h-4M535 173h-4M70 151h-7.5M535 151h-7.5M70 129h-4M535 129h-4M70 107h-7.5M535 107h-7.5M70 85h-4M535 85h-4M70 63h-7.5M535 63h-7.5M70 41h-4M535 41h-4M70 19h-7.5M535 19h-7.5"/>
<text class="tk" x="57" y="375.1" text-anchor="end">0</text>
<text class="tk" x="57" y="331.1" text-anchor="end">50</text>
<text class="tk" x="57" y="287.1" text-anchor="end">100</text>
<text class="tk" x="57" y="243.1" text-anchor="end">150</text>
<text class="tk" x="57" y="199.1" text-anchor="end">200</text>
<text class="tk" x="57" y="155.1" text-anchor="end">250</text>
<text class="tk" x="57" y="111.1" text-anchor="end">300</text>
<text class="tk" x="57" y="67.1" text-anchor="end">350</text>
<text class="tk" x="57" y="23.1" text-anchor="end">400</text>
<text class="tk" x="112.3" y="416.6" text-anchor="middle">0</text>
<text class="tk" x="196.8" y="416.6" text-anchor="middle">5</text>
<text class="tk" x="281.4" y="416.6" text-anchor="middle">10</text>
<text class="tk" x="365.9" y="416.6" text-anchor="middle">15</text>
<text class="tk" x="450.5" y="416.6" text-anchor="middle">20</text>
<text class="tk" x="535" y="416.6" text-anchor="middle">25</text>
<text class="ax" x="303" y="454.6" text-anchor="middle">Time (min)</text>
<text class="ax" transform="translate(23.5 205.2) rotate(-90)" text-anchor="middle">Signal (mAU)</text>
<text class="an" x="160.6" y="160.6">IgG</text>
<path d="M197.4 161L241 191" stroke="#1c1c1c" stroke-width="1.7" fill="none"/>
<path d="M249 196.6L240 183L232.4 195z" fill="#1c1c1c"/>
<rect x="343.3" y="22.2" width="182.7" height="119" fill="#fff" stroke="#222" stroke-width="1"/>
<path d="M345.2 35.1H361.6M372.2 35.1H388" stroke="#808080" stroke-width=".9" fill="none"/>
<rect x="363.5" y="31.8" width="6.6" height="6.6" fill="#444"/>
<text class="lg" y="41"><tspan x="392.6">Light Phase</tspan><tspan class="lp" x="479.3">(25°C)</tspan></text>
<path d="M345.2 58.5H361.6M372.2 58.5H388" stroke="#ff6060" stroke-width=".9" fill="none"/>
<circle cx="366.8" cy="58.5" r="3.7" fill="#f73b3b"/>
<text class="lg" y="64.4"><tspan x="392.6">Light Phase</tspan><tspan class="lp" x="479.3">(10°C)</tspan></text>
<path d="M345.2 81.8H361.6M372.2 81.8H388" stroke="#6fa8f5" stroke-width=".9" fill="none"/>
<path d="M366.8 76.7l4.5 7.6h-9z" fill="#1f6fe8"/>
<text class="lg" y="87.7"><tspan x="392.6">Precipitate</tspan><tspan class="lp" x="479.3">(10°C)</tspan></text>
<path d="M345.2 105.2H361.6M372.2 105.2H388" stroke="#4cc690" stroke-width=".9" fill="none"/>
<path d="M366.8 110.3l4.5 -7.6h-9z" fill="#16a85e"/>
<text class="lg" y="111.1"><tspan x="392.6">Light Phase</tspan><tspan class="lp" x="479.3">(4°C)</tspan></text>
<path d="M345.2 128.6H361.6M372.2 128.6H388" stroke="#d69be9" stroke-width=".9" fill="none"/>
<path d="M366.8 123.9l4.7 4.7l-4.7 4.7l-4.7 -4.7z" fill="#c670e2"/>
<text class="lg" y="134.5"><tspan x="392.6">Precipitate</tspan><tspan class="lp" x="479.3">(4°C)</tspan></text>
</svg></body></html>
